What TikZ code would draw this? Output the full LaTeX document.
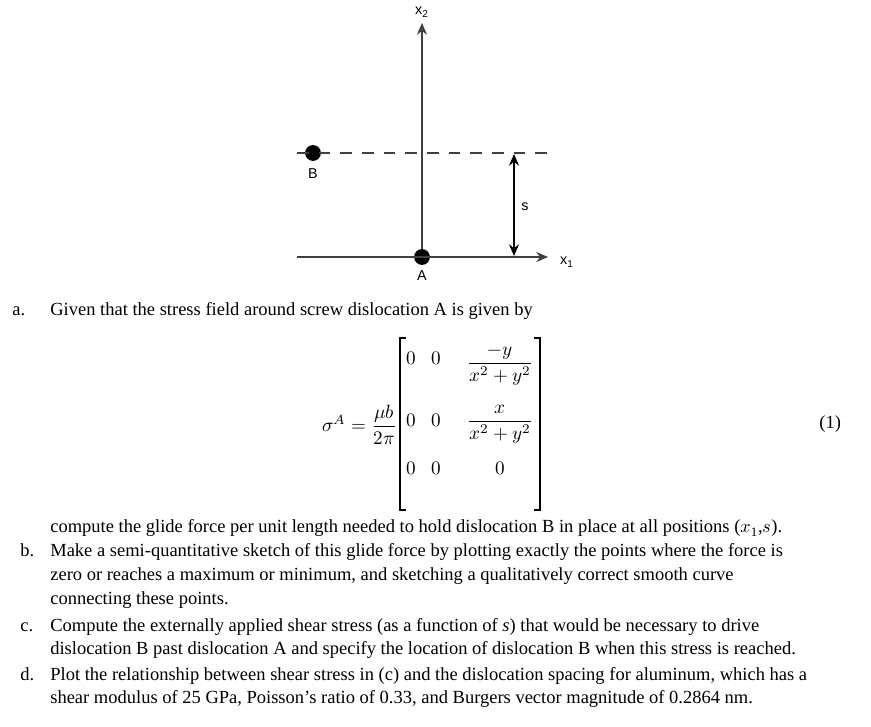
\documentclass[tikz,border=0pt]{standalone}
\usepackage{fontspec}
\setmainfont{Liberation Serif}
\newfontfamily\lsans{Liberation Sans}
\usepackage{amsmath}
\usepackage{unicode-math}
\setmathfont{Latin Modern Math}
\usetikzlibrary{arrows.meta}
\begin{document}
\begin{tikzpicture}[x=0.6pt,y=-0.6pt,
  ax/.style={draw=black!75,line width=0.8pt},
  lab/.style={font=\lsans\fontsize{8.6}{10}\selectfont,inner sep=0},
  txt/.style={anchor=base west,inner sep=0,font=\fontsize{11.1}{13}\selectfont},
  mx/.style={font=\fontsize{11.5}{13}\selectfont},
  dot/.style={circle,fill=black,inner sep=0,minimum size=9.5pt},
  tip/.style={-{Stealth[length=7pt,width=6pt]}}]
\useasboundingbox (0,0) rectangle (871,727);
% diagram
\coordinate (L) at (297,257); \coordinate (R) at (548,257);
\coordinate (T) at (422,23);
\node[dot] (A) at (422,257) {};
\node[dot] (B) at (313,153) {};
\draw[ax,tip] (L) -- (R);
\draw[ax,tip] (A) -- (T);
\coordinate (DL) at (297,153); \coordinate (DR) at (550,153);
\draw[ax,dash pattern=on 7pt off 6pt] (DL) -- (DR);
\coordinate (S1) at (514,154); \coordinate (S2) at (514,256);
\draw[line width=0.8pt,{Stealth[length=7pt,width=6pt]}-{Stealth[length=7pt,width=6pt]}] (S1) -- (S2);
\node[lab] (x2) at (422,12) {x\textsubscript{2}};
\node[lab] (x1) at (567,262) {x\textsubscript{1}};
\node[lab] (la) at (422,276) {A};
\node[lab] (lb) at (313,174) {B};
\node[lab] (ls) at (525,207) {s};
% text
\node[txt] (a) at (12,316) {a.};
\node[txt] (ta) at (50,316) {Given that the stress field around screw dislocation A is given by};
% equation
\node[mx,inner sep=0,anchor=east] (sig) at (397,425) {$\boldsymbol{\sigma}^{A}=\dfrac{\mu b}{2\pi}$};
\draw[line width=0.7pt] (406,338) -- (400,338) -- (400,510) -- (406,510);
\draw[line width=0.7pt] (534,338) -- (540,338) -- (540,510) -- (534,510);
\node[mx] (m11) at (411,358) {$0$}; \node[mx] (m12) at (436,358) {$0$};
\node[mx] (m13) at (500,366) {$\dfrac{-y}{x^{2}+y^{2}}$};
\node[mx] (m21) at (411,420) {$0$}; \node[mx] (m22) at (436,420) {$0$};
\node[mx] (m23) at (500,424) {$\dfrac{x}{x^{2}+y^{2}}$};
\node[mx] (m31) at (411,468) {$0$}; \node[mx] (m32) at (436,468) {$0$};
\node[mx] (m33) at (500,468) {$0$};
\node[txt] (eq1) at (819,429) {(1)};
\node[txt] (t1) at (50,532) {compute the glide force per unit length needed to hold dislocation B in place at all positions ($x$\textsubscript{1},$s$).};
\node[txt] (b) at (20,556) {b.};
\node[txt] (t2) at (50,556) {Make a semi-quantitative sketch of this glide force by plotting exactly the points where the force is};
\node[txt] (t3) at (50,580) {zero or reaches a maximum or minimum, and sketching a qualitatively correct smooth curve};
\node[txt] (t4) at (50,604) {connecting these points.};
\node[txt] (c) at (20,631) {c.};
\node[txt] (t5) at (50,631) {Compute the externally applied shear stress (as a function of \textit{s}) that would be necessary to drive};
\node[txt] (t6) at (50,654) {dislocation B past dislocation A and specify the location of dislocation B when this stress is reached.};
\node[txt] (d) at (20,680) {d.};
\node[txt] (t7) at (50,680) {Plot the relationship between shear stress in (c) and the dislocation spacing for aluminum, which has a};
\node[txt] (t8) at (50,703) {shear modulus of 25 GPa, Poisson’s ratio of 0.33, and Burgers vector magnitude of 0.2864 nm.};
\end{tikzpicture}
\end{document}
